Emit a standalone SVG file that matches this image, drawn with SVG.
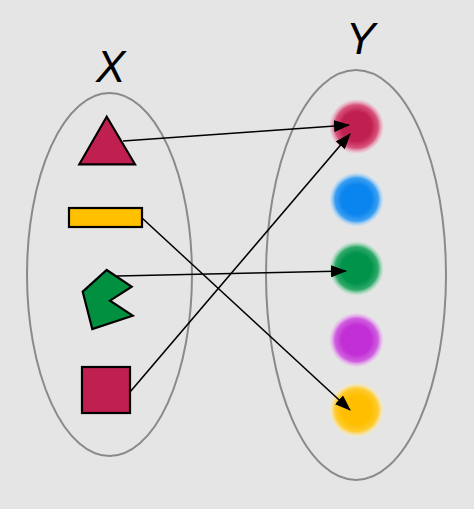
<svg xmlns="http://www.w3.org/2000/svg" width="474" height="509" viewBox="0 0 474 509">
<style>
.set{fill:none;stroke:#8a8a8a;stroke-width:2}
.shape{stroke:#000;stroke-width:2.2;stroke-linejoin:miter}
.lbl{font-family:"Liberation Sans",Arial,sans-serif;font-style:italic;font-size:44px;fill:#000}
.conn{stroke:#000;stroke-width:1.6;fill:none;marker-end:url(#ah)}
</style>
<defs>
<marker id="ah" viewBox="0 0 16 12" refX="15" refY="6" markerWidth="16" markerHeight="12" markerUnits="userSpaceOnUse" orient="auto">
<path d="M0,0 L16,6 L0,12 Z" fill="#000"/>
</marker>
<radialGradient id="gr"><stop offset="0.55" stop-color="#c0204f"/><stop offset="0.8" stop-color="#d8537c"/><stop offset="1" stop-color="#f4b8cb" stop-opacity="0.3"/></radialGradient>
<radialGradient id="gb"><stop offset="0.55" stop-color="#0a84ee"/><stop offset="0.8" stop-color="#3a9ff2"/><stop offset="1" stop-color="#c4e2fb" stop-opacity="0.3"/></radialGradient>
<radialGradient id="gg"><stop offset="0.55" stop-color="#00934a"/><stop offset="0.8" stop-color="#30aa6a"/><stop offset="1" stop-color="#b6e4c8" stop-opacity="0.3"/></radialGradient>
<radialGradient id="gp"><stop offset="0.55" stop-color="#c22fd6"/><stop offset="0.8" stop-color="#d060e0"/><stop offset="1" stop-color="#f0c4f5" stop-opacity="0.3"/></radialGradient>
<radialGradient id="gy"><stop offset="0.55" stop-color="#ffbf00"/><stop offset="0.8" stop-color="#ffcb30"/><stop offset="1" stop-color="#fff0b8" stop-opacity="0.3"/></radialGradient>
</defs>
<rect width="474" height="509" fill="#e5e5e5"/>
<g id="setX">
<ellipse class="set" cx="109.5" cy="274.5" rx="82.5" ry="181.5"/>
<text class="lbl" x="96" y="82">X</text>
</g>
<g id="setY">
<ellipse class="set" cx="356" cy="275" rx="90" ry="205"/>
<text class="lbl" x="346" y="54">Y</text>
</g>
<g id="triangle"><polygon class="shape" points="106.7,116.7 79.3,164.3 135,164.3" fill="#c0204f"/></g>
<g id="rectangle"><rect class="shape" x="69" y="208" width="73" height="19" fill="#ffc000"/></g>
<g id="pacman"><polygon class="shape" points="106.7,270 131.7,286.7 110,300.7 132.7,315.7 92.3,329 82.7,291.7" fill="#009040"/></g>
<g id="square"><rect class="shape" x="82" y="367" width="48" height="46" fill="#c0204f"/></g>
<g id="red"><circle cx="356.5" cy="126.5" r="27" fill="url(#gr)"/></g>
<g id="blue"><circle cx="356.5" cy="199.5" r="27" fill="url(#gb)"/></g>
<g id="green"><circle cx="356.5" cy="268.5" r="27" fill="url(#gg)"/></g>
<g id="purple"><circle cx="356.5" cy="340" r="27" fill="url(#gp)"/></g>
<g id="yellow"><circle cx="356.5" cy="410" r="27" fill="url(#gy)"/></g>
<g id="connectors">
<line class="conn" x1="123" y1="141" x2="349" y2="125"/>
<line class="conn" x1="142" y1="218" x2="350" y2="410"/>
<line class="conn" x1="117" y1="276" x2="346" y2="271"/>
<line class="conn" x1="130" y1="392" x2="350" y2="134"/>
</g>
</svg>
